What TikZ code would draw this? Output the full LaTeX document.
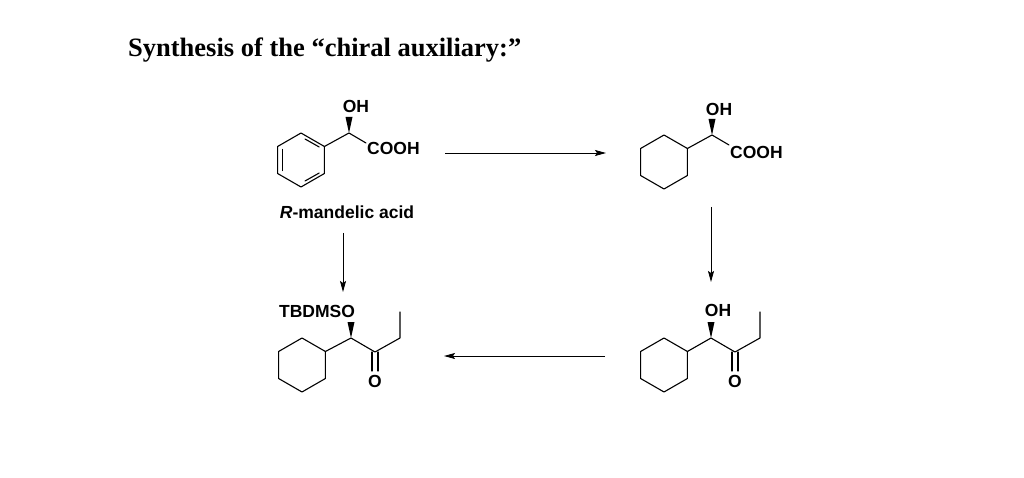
\documentclass[tikz,border=0pt]{standalone}
\usepackage{fontspec}
\usetikzlibrary{arrows.meta}
\setmainfont{Liberation Serif}
\setsansfont{Liberation Sans}
\begin{document}
\begin{tikzpicture}[x=1pt,y=-1pt,
  bond/.style={line width=1.1pt,line cap=round,line join=round},
  arr/.style={line width=0.8pt,-{Stealth[length=11pt,width=6pt,inset=2pt]}},
  lab/.style={font=\sffamily\bfseries\fontsize{17.5}{17.5}\selectfont,inner sep=0pt},
  every node/.style={inner sep=0pt}]
\useasboundingbox (0,0) rectangle (1024,478);
\node[anchor=west,font=\bfseries\fontsize{26.5}{26.5}\selectfont] (title) at (128,50) {Synthesis of the “chiral auxiliary:”};
\newcommand{\myring}[2]{%
  \draw[bond] (#1+23.4,#2-13.5) -- (#1,#2-27) -- (#1-23.4,#2-13.5) -- (#1-23.4,#2+13.5) -- (#1,#2+27) -- (#1+23.4,#2+13.5) -- cycle;}
% ---- mandelic acid
\myring{301}{160}
\draw[bond] (282.8,149.5) -- (282.8,170.5);
\draw[bond] (305,139) -- (319.2,147);
\draw[bond] (305,181) -- (319.2,173);
\draw[bond] (324.4,146.5) -- (349,133) -- (366,143);
\fill (349,133) -- (345.5,117) -- (352.5,117) -- cycle;
\node[lab] (oh1) at (356,106) {OH};
\node[lab,anchor=west] (c1) at (367,148) {COOH};
\node[font=\sffamily\bfseries\fontsize{17.5}{17.5}\selectfont] (name) at (347,212) {\textit{R}-mandelic acid};
% ---- cyclohexyl acid
\myring{664}{162}
\draw[bond] (687.4,148.5) -- (712,135) -- (729,145);
\fill (712,135) -- (708.5,119) -- (715.5,119) -- cycle;
\node[lab] (oh2) at (719,109) {OH};
\node[lab,anchor=west] (c2) at (730,152) {COOH};
% ---- TBDMS ketone
\myring{302}{365}
\draw[bond] (325.4,351.5) -- (351,338) -- (375,352) -- (400,338) -- (400,312);
\draw[bond] (372,352) -- (372,371); \draw[bond] (378,352) -- (378,371);
\fill (351,338) -- (347.5,322) -- (354.5,322) -- cycle;
\node[lab] (tb) at (317,311) {TBDMSO};
\node[lab] (o3) at (375,381) {O};
% ---- OH ketone
\myring{664}{365}
\draw[bond] (687.4,351.5) -- (711,338) -- (735,352) -- (760,338) -- (760,312);
\draw[bond] (732,352) -- (732,371); \draw[bond] (738,352) -- (738,371);
\fill (711,338) -- (707.5,322) -- (714.5,322) -- cycle;
\node[lab] (oh4) at (718,310) {OH};
\node[lab] (o4) at (735,381) {O};
% arrows
\coordinate (a1) at (445,153); \coordinate (a2) at (606,153);
\coordinate (b1) at (343,233); \coordinate (b2) at (343,292);
\coordinate (c1a) at (711,207); \coordinate (c2a) at (711,282);
\coordinate (d1) at (605,356); \coordinate (d2) at (444,356);
\draw[arr] (a1) -- (a2);
\draw[arr] (b1) -- (b2);
\draw[arr] (c1a) -- (c2a);
\draw[arr] (d1) -- (d2);
\end{tikzpicture}
\end{document}
